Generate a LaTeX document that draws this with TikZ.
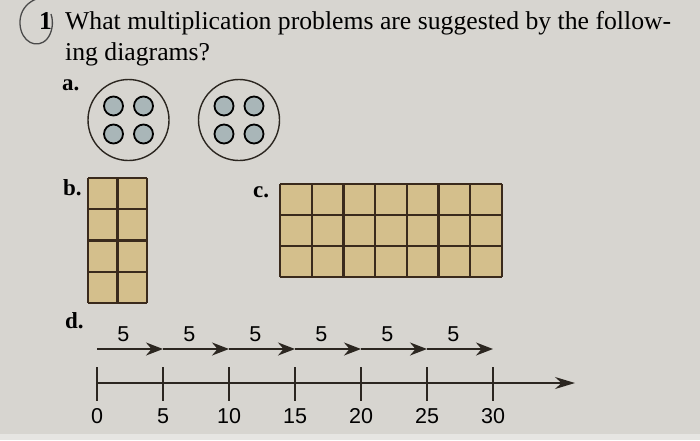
\documentclass[tikz,border=0pt]{standalone}
\usepackage{fontspec}
\setmainfont{Liberation Serif}
\newfontfamily\numfont{Liberation Sans}
\usetikzlibrary{arrows.meta,positioning}

\definecolor{paper}{HTML}{D7D5D0}
\definecolor{paperlight}{HTML}{E6E5E2}
\definecolor{tilefill}{HTML}{D4BF8C}
\definecolor{counterfill}{HTML}{A9B6B8}
\definecolor{ink}{HTML}{2B2620}
\definecolor{gridink}{HTML}{3A2A1C}
\definecolor{pencil}{HTML}{4A4A4A}

\tikzset{
    heading/.style={
           anchor=base west,
           inner sep=0pt,
           font=\fontsize{25.7}{30}\selectfont,
           },
    partlabel/.style={
           anchor=base west,
           inner sep=0pt,
           font=\fontsize{23}{27}\selectfont\bfseries,
           },
    group/.style={
           circle,
           draw=ink, line width=1.4pt,
           minimum size=81pt,
           inner sep=0pt,
           },
    counter/.style={
           circle,
           draw=black, line width=1.8pt,
           fill=counterfill,
           minimum size=19pt,
           inner sep=0pt,
           },
    tileline/.style={draw=gridink, line width=2.3pt},
    jump/.style={draw=ink, line width=1.6pt, -{Stealth[length=17pt,width=13pt]}},
    numline/.style={draw=ink, line width=1.4pt, -{Stealth[length=20pt,width=12pt]}},
    tickmark/.style={draw=ink, line width=1.5pt},
    numlabel/.style={
           anchor=base,
           inner sep=0pt,
           font=\numfont\fontsize{21.5}{25}\selectfont,
           },
}

\begin{document}
\begin{tikzpicture}[x=1pt, y=-1pt]
    % page
    \useasboundingbox (0,0) rectangle (700,440);
    \fill[paper] (0,0) rectangle (700,440);
    \fill[paperlight] (0,434) rectangle (700,440);

    % question number with the pencil ring round it
    \node[heading, font=\fontsize{25.7}{30}\selectfont\bfseries] (qnum) at (39,29) {1};
    \draw[pencil, line width=1.3pt]
        (58,-2) .. controls (38,-7) and (19,4) .. (20,24)
                .. controls (21,42) and (37,50) .. (47,39)
                .. controls (52,33) and (54,23) .. (51,14);

    % question text
    \node[heading] (qline1) at (65,29) {What multiplication problems are suggested by the follow-};
    \node[heading] (qline2) at (65,60) {ing diagrams?};

    % a. two groups of four
    \node[partlabel] (lbla) at (62,90) {a.};
    \node[group] (grpA) at (128.5,120) {};
    \node[group] (grpB) at (239,120) {};
    \foreach \g in {grpA,grpB} {
        \node[counter] (\g-nw) at ([shift={(-15,-14)}]\g.center) {};
        \node[counter] (\g-ne) at ([shift={(15,-14)}]\g.center) {};
        \node[counter] (\g-sw) at ([shift={(-15,14)}]\g.center) {};
        \node[counter] (\g-se) at ([shift={(15,14)}]\g.center) {};
    }

    % b. two columns of four
    \node[partlabel] (lblb) at (63,195) {b.};
    \fill[tilefill] (88,178) rectangle (147,303);
    \foreach \i in {0,1,2}
        \draw[tileline] (88+29.5*\i,178) -- (88+29.5*\i,303);
    \foreach \j in {0,...,4}
        \draw[tileline] (88,178+31.25*\j) -- (147,178+31.25*\j);

    % c. seven columns of three
    \node[partlabel] (lblc) at (253,197) {c.};
    \fill[tilefill] (280,184) rectangle (502,277);
    \foreach \i in {0,...,7}
        \draw[tileline] (280+31.714*\i,184) -- (280+31.714*\i,277);
    \foreach \j in {0,...,3}
        \draw[tileline] (280,184+31*\j) -- (502,184+31*\j);

    % d. jumps of five along the number line
    \node[partlabel] (lbld) at (65,328) {d.};
    \foreach \k in {0,...,6} {
        \coordinate (j\k) at (97+66*\k,349);
        \coordinate (t\k) at (97+66*\k,383);
    }
    \foreach \k [evaluate=\k as \n using int(\k+1)] in {0,...,5}
        \draw[jump] (j\k) -- (j\n) node[numlabel, pos=0.4, yshift=8pt] (jlbl\k) {5};
    \coordinate (axisend) at (575,383);
    \draw[numline] (t0) -- (axisend);
    \foreach \k [evaluate=\k as \v using int(5*\k)] in {0,...,6} {
        \draw[tickmark] (t\k) ++(0,-16) -- ++(0,34);
        \node[numlabel, yshift=-40pt] (num\k) at (t\k) {\v};
    }
\end{tikzpicture}
\end{document}
